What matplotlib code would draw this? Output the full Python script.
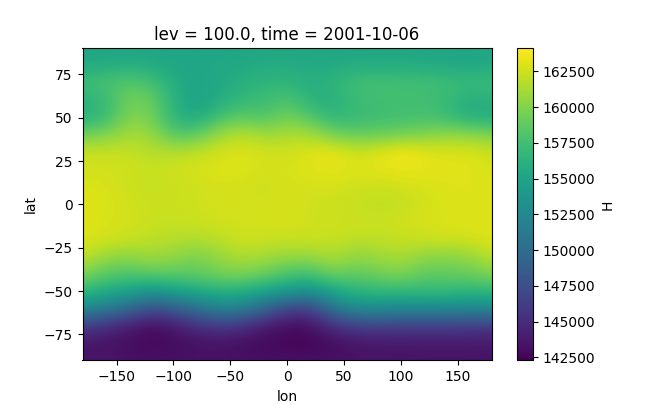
import numpy as np
import matplotlib
matplotlib.use("Agg")
import matplotlib.pyplot as plt

# grid, values in thousands
lons = [-180, -160, -140, -120, -100, -80, -60, -40, -20, 0, 20, 40, 60, 80, 100, 120, 140, 160, 180]
lats = [-90, -80, -70, -60, -50, -40, -30, -20, -10, 0, 10, 20, 30, 40, 50, 60, 70, 80, 90]

h_n90 = [155.2, 155.2, 155.2, 155.2, 155.1, 155.0, 155.1, 155.2, 155.3, 155.3, 155.3, 155.3, 155.3, 155.3, 155.3, 155.3, 155.2, 155.2, 155.2]
h_n80 = [155.5, 155.7, 155.8, 155.6, 155.2, 155.1, 155.3, 155.5, 155.7, 155.7, 155.6, 155.5, 155.7, 155.7, 155.7, 155.5, 155.4, 155.3, 155.5]
h_n70 = [157.3, 157.8, 158.4, 157.6, 155.8, 155.0, 155.6, 156.0, 156.5, 156.5, 155.9, 156.5, 157.5, 157.6, 157.5, 157.5, 157.3, 157.0, 157.3]
h_n60 = [156.3, 157.0, 159.4, 159.2, 156.2, 154.7, 155.7, 156.8, 157.2, 158.0, 156.2, 156.0, 157.3, 157.5, 157.5, 157.5, 157.0, 156.0, 156.3]
h_n50 = [156.0, 157.0, 160.0, 159.6, 156.4, 155.4, 157.6, 158.6, 158.0, 159.5, 158.2, 156.5, 157.0, 157.3, 157.5, 157.7, 157.2, 155.8, 155.7]
h_n40 = [159.3, 159.8, 161.2, 160.8, 158.2, 158.6, 161.0, 161.8, 161.0, 161.3, 161.3, 159.3, 159.0, 159.0, 159.4, 159.8, 160.5, 160.3, 159.8]
h_n30 = [162.3, 162.3, 162.2, 161.8, 161.6, 162.0, 162.6, 163.0, 162.6, 162.5, 163.0, 163.6, 162.3, 163.0, 163.9, 163.2, 162.9, 162.9, 162.3]
h_n20 = [162.6, 162.6, 162.5, 162.3, 162.5, 162.8, 163.0, 163.0, 162.7, 162.8, 163.0, 163.2, 163.0, 163.2, 163.4, 163.3, 163.1, 163.1, 162.8]
h_n10 = [162.9, 162.8, 162.4, 162.2, 162.3, 162.5, 162.7, 162.6, 162.4, 162.7, 162.7, 162.8, 162.5, 162.4, 162.6, 162.8, 163.0, 163.0, 162.9]
h_00 = [163.0, 162.9, 162.6, 162.4, 162.4, 162.5, 162.7, 162.7, 162.6, 162.8, 162.5, 162.3, 162.2, 161.9, 162.1, 162.6, 162.9, 163.0, 163.0]
h_s10 = [163.0, 162.8, 162.6, 162.3, 162.2, 162.4, 162.6, 162.6, 162.7, 162.8, 162.5, 162.5, 162.5, 162.4, 162.6, 162.8, 162.9, 163.0, 163.0]
h_s20 = [163.0, 162.7, 162.4, 162.0, 161.8, 161.6, 162.0, 162.5, 162.4, 162.3, 162.4, 162.3, 162.0, 162.0, 162.2, 162.4, 162.6, 162.7, 163.0]
h_s30 = [162.2, 160.8, 160.5, 161.0, 160.6, 159.7, 160.8, 161.5, 161.2, 160.8, 160.8, 161.5, 160.5, 161.0, 161.4, 160.5, 160.4, 160.6, 162.2]
h_s40 = [160.0, 158.6, 158.2, 158.8, 158.8, 158.8, 159.6, 160.0, 159.3, 158.0, 157.8, 159.5, 158.8, 159.4, 160.0, 158.8, 158.8, 159.2, 160.0]
h_s50 = [157.0, 155.8, 155.2, 154.0, 155.0, 155.8, 156.4, 156.2, 155.2, 154.6, 153.6, 155.4, 156.6, 157.0, 157.0, 157.0, 157.2, 156.6, 157.0]
h_s60 = [152.8, 151.6, 150.0, 147.4, 148.6, 150.4, 152.2, 152.0, 149.4, 146.6, 146.4, 151.0, 153.0, 153.0, 152.8, 152.8, 152.8, 152.6, 152.8]
h_s70 = [146.2, 145.2, 144.0, 143.0, 143.8, 145.2, 146.0, 145.4, 143.8, 143.0, 143.2, 145.2, 146.4, 146.6, 146.4, 146.4, 146.4, 146.2, 146.2]
h_s80 = [143.6, 143.4, 143.0, 142.7, 142.9, 143.2, 143.3, 143.0, 142.8, 142.6, 142.5, 143.0, 143.4, 143.6, 143.6, 143.7, 143.7, 143.7, 143.6]
h_s90 = [143.5, 143.5, 143.4, 143.2, 143.3, 143.4, 143.4, 143.3, 143.2, 143.2, 143.2, 143.3, 143.4, 143.5, 143.5, 143.5, 143.5, 143.5, 143.5]

H = np.array([h_s90, h_s80, h_s70, h_s60, h_s50, h_s40, h_s30, h_s20, h_s10, h_00,
              h_n10, h_n20, h_n30, h_n40, h_n50, h_n60, h_n70, h_n80, h_n90]) * 1000

fig, ax = plt.subplots(figsize=(6.6, 4.05), dpi=100)
fig.subplots_adjust(top=0.8808)

dx = (lons[1] - lons[0]) / 2
dy = (lats[1] - lats[0]) / 2
im = ax.imshow(H, origin="lower", aspect="auto", cmap="viridis", interpolation="bicubic",
               extent=[lons[0] - dx, lons[-1] + dx, lats[0] - dy, lats[-1] + dy],
               vmin=142290, vmax=164110)
ax.set_xlim(-180, 180)
ax.set_ylim(-90, 90)
ax.set_xticks(np.arange(-150, 151, 50))
ax.set_yticks(np.arange(-75, 76, 25))
ax.set_xlabel("lon")
ax.set_ylabel("lat")
ax.set_title("lev = 100.0, time = 2001-10-06")

cb = fig.colorbar(im, ax=ax)
cb.set_ticks(np.arange(142500, 162501, 2500))
cb.set_label("H")

plt.savefig("out.png", dpi=100)
